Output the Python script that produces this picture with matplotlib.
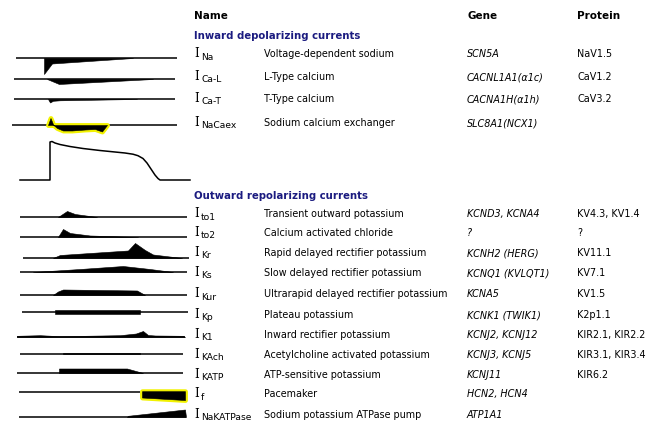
import numpy as np
import matplotlib.pyplot as plt

# table text
names = ['Na', 'Ca-L', 'Ca-T', 'NaCaex',
         'to1', 'to2', 'Kr', 'Ks', 'Kur', 'Kp', 'K1', 'KAch', 'KATP', 'f', 'NaKATPase']
descr = ['Voltage-dependent sodium', 'L-Type calcium', 'T-Type calcium', 'Sodium calcium exchanger',
         'Transient outward potassium', 'Calcium activated chloride', 'Rapid delayed rectifier potassium',
         'Slow delayed rectifier potassium', 'Ultrarapid delayed rectifier potassium', 'Plateau potassium',
         'Inward rectifier potassium', 'Acetylcholine activated potassium', 'ATP-sensitive potassium',
         'Pacemaker', 'Sodium potassium ATPase pump']
genes = ['SCN5A', 'CACNL1A1(\u03b11c)', 'CACNA1H(\u03b11h)', 'SLC8A1(NCX1)',
         'KCND3, KCNA4', '?', 'KCNH2 (HERG)', 'KCNQ1 (KVLQT1)', 'KCNA5', 'KCNK1 (TWIK1)',
         'KCNJ2, KCNJ12', 'KCNJ3, KCNJ5', 'KCNJ11', 'HCN2, HCN4', 'ATP1A1']
proteins = ['NaV1.5', 'CaV1.2', 'CaV3.2', '',
            'KV4.3, KV1.4', '?', 'KV11.1', 'KV7.1', 'KV1.5', 'K2p1.1',
            'KIR2.1, KIR2.2', 'KIR3.1, KIR3.4', 'KIR6.2', '', '']

# current waveforms: time (trace units), upper and lower edge (up = outward)
na_t, na_hi, na_lo = [44, 44, 52, 133], [0, 0, 0, 0], [0, -16, -5.5, 0]
cal_t, cal_hi, cal_lo = [47, 59, 153], [0, 0, 0], [0, -5, 0]
cat_t, cat_hi, cat_lo = [48, 50, 53, 60, 137], [0, 0, 0, 0, 0], [0, -3.5, -1.8, -1.3, 0]
ncx_t = [48, 50.5, 53, 53.5, 57, 63, 72, 85, 95, 102, 107]
ncx_hi = [0, 7, 0.8, 0, 0, 0, 0, 0, 0, 0, 0]
ncx_lo = [0, 0, 0, 0, -3, -5.5, -5.5, -4.5, -4, -6.5, 0]
to1_t, to1_hi = [58, 67, 75, 97], [0, 6, 3, 0]
to2_t, to2_hi = [58, 63, 70, 90, 138], [0, 8, 4, 1.5, 0]
kr_t, kr_hi = [53, 60, 90, 128, 135, 145, 153, 182], [0, 3, 5, 7.5, 15, 8, 3.5, 0]
ks_t, ks_hi = [33, 80, 123, 150, 173], [0, 3, 6, 3, 0]
kur_t, kur_hi = [53, 58, 63, 137, 145], [0, 3.5, 5.5, 4.5, 0]
kp_t, kp_hi, kp_lo = [55, 140], [1.8, 1.8], [-1.8, -1.8]
k1_t = [17, 40, 60, 120, 136, 143, 148, 155, 183, 185]
k1_hi = [1.2, 1.8, 0.8, 1.8, 3.5, 6, 2, 1.5, 1.2, 0]
kach_t, kach_hi, kach_lo = [63, 140], [0.8, 0.8], [-0.4, -0.4]
katp_t, katp_hi = [59, 59, 127, 143], [0, 4.5, 4.5, 0]
if_t, if_hi, if_lo = [142, 185], [0.8, 0.8], [-5.5, -8]
nak_t, nak_hi = [127, 128, 185, 186], [0, 1.2, 7.5, 0]

# action potential
ap_t = [20, 50, 50, 52, 55, 60, 70, 83, 100, 115, 125, 133, 138, 143, 147, 151, 155, 158, 160, 190]
ap_v = [0, 0, 38, 38.5, 37, 35.5, 33.5, 31.5, 29.5, 28, 27, 25.8, 24.3, 21.5, 17, 11, 5, 1.5, 0, 0]

waves = [(na_t, na_hi, na_lo), (cal_t, cal_hi, cal_lo), (cat_t, cat_hi, cat_lo),
         (ncx_t, ncx_hi, ncx_lo), (to1_t, to1_hi, None), (to2_t, to2_hi, None),
         (kr_t, kr_hi, None), (ks_t, ks_hi, None), (kur_t, kur_hi, None),
         (kp_t, kp_hi, kp_lo), (k1_t, k1_hi, None), (kach_t, kach_hi, kach_lo),
         (katp_t, katp_hi, None), (if_t, if_hi, if_lo), (nak_t, nak_hi, None)]
glow = ['NaCaex', 'f']

# layout
text_y = [54, 77, 99, 123, 214, 233, 253, 273, 294, 315, 335, 355, 375, 394, 415]
base_y = [58, 79, 99, 125, 217, 237, 258, 272, 295, 312, 337, 354, 373, 392, 417]
line_x = [(16, 177), (14, 175), (14, 175), (12, 177), (20, 187), (20, 187), (23, 189),
          (20, 187), (20, 187), (22, 188), (17, 185), (20, 183), (17, 183), (19, 140), (19, 186)]

fs = 6.9
navy = '#1b1b80'
fig = plt.figure(figsize=(6.6, 4.34), dpi=100)
ax = fig.add_axes([0, 0, 1, 1])
ax.set_xlim(0, 660)
ax.set_ylim(434, 0)
ax.axis('off')

ax.text(194, 16, 'Name', fontsize=fs + 0.6, fontweight='bold', va='center')
ax.text(467, 16, 'Gene', fontsize=fs + 0.6, fontweight='bold', va='center')
ax.text(577, 16, 'Protein', fontsize=fs + 0.6, fontweight='bold', va='center')
ax.text(194, 36, 'Inward depolarizing currents', fontsize=fs + 0.4, fontweight='bold',
        color=navy, va='center')
ax.text(194, 196, 'Outward repolarizing currents', fontsize=fs + 0.4, fontweight='bold',
        color=navy, va='center')

for i, nm in enumerate(names):
    y = text_y[i]
    ax.text(194, y - 0.5, 'I', fontsize=fs + 1.6, va='center', family='DejaVu Serif')
    ax.text(201, y + 3, nm, fontsize=fs - 0.3, va='center')
    ax.text(264, y, descr[i], fontsize=fs, va='center')
    ax.text(467, y, genes[i], fontsize=fs, va='center', style='italic')
    ax.text(577, y, proteins[i], fontsize=fs, va='center')

    b = base_y[i]
    x0, x1 = line_x[i]
    ax.plot([x0, x1], [b, b], color='black', lw=1.1, solid_capstyle='butt')
    t, hi, lo = waves[i]
    t = np.array(t, float)
    hi = np.array(hi, float)
    lo = np.zeros_like(t) if lo is None else np.array(lo, float)
    if nm in glow:
        ax.fill_between(t, b - hi, b - lo, facecolor='#f2f200', edgecolor='#f2f200',
                        lw=3.5, zorder=2)
    ax.fill_between(t, b - hi, b - lo, facecolor='black', edgecolor='black', lw=0.4, zorder=3)

ap_base = 180
ax.plot(ap_t, ap_base - np.array(ap_v), color='black', lw=1.1)

fig.savefig('out.png', dpi=100)
